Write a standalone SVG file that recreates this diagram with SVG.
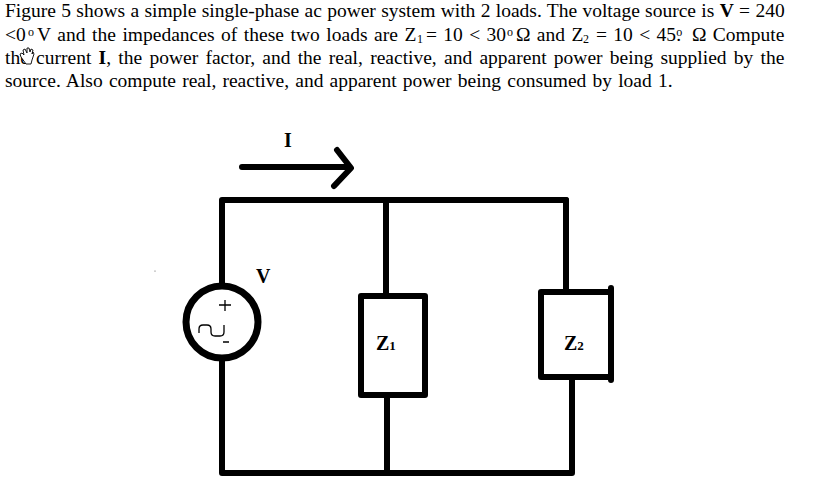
<svg xmlns="http://www.w3.org/2000/svg" width="816" height="485" viewBox="0 0 816 485">
<style>
text{font-family:"Liberation Serif","Times New Roman",serif;fill:#000}
.t{font-size:19.5px}
.s{font-size:12px}
.b{font-weight:bold}
.w{fill:none;stroke:#000;stroke-width:6;stroke-linecap:round;stroke-linejoin:round}
.n{fill:none;stroke:#000;stroke-width:1.3}
.l{font-size:20px;font-weight:bold}
.u{font-size:13px;font-weight:bold}
</style>
<rect width="816" height="485" fill="#fff"/>
<g id="problem-text">
<text class="t" x="5" y="17" word-spacing="0.45">Figure 5 shows a simple single-phase ac power system with 2 loads. The voltage source is <tspan class="b">V</tspan> = 240</text>
<text class="t" x="5" y="41">&lt;0</text><text class="s" x="28" y="36">o</text>
<text class="t" x="37" y="41" word-spacing="1.7">V and the impedances of these two loads are Z</text>
<text class="s" x="417" y="43">1</text>
<text class="t" x="426" y="41" word-spacing="1.5">= 10 &lt; 30</text><text class="s" x="507" y="36">o</text>
<text class="t" x="516" y="41" word-spacing="1.5">Ω and Z</text><text class="s" x="583" y="43">2</text>
<text class="t" x="596" y="41" word-spacing="1.5">= 10 &lt; 45<tspan class="s" dy="-5">o</tspan><tspan dy="5" dx="-6">.</tspan></text>
<text class="t" x="692" y="41" word-spacing="1.5">Ω Compute</text>
<text class="t" x="5" y="64" word-spacing="2.4">the current <tspan class="b">I</tspan>, the power factor, and the real, reactive, and apparent power being supplied by the</text>
<text class="t" x="5" y="87" word-spacing="1.3">source. Also compute real, reactive, and apparent power being consumed by load 1.</text>
<path d="M26 64L21 57L20 54L22 53L24 55L23 50L25 49L27 53L27 48L29 48L30 52L31 49L33 50L32 54L33 52L34 54L32 60L31 64Z" fill="#fff" stroke="#000" stroke-width="0.9"/>
<circle cx="155" cy="271" r="0.6" fill="#555"/>
</g>
<g id="connectors">
<path class="w" d="M222 286V200H386M386 200H566"/>
<path class="w" d="M386 200V295M566 200V291M387 396V473M572 378V473M222 358V473H572"/>
<path class="w" d="M242 167H350M337 150L351 168L334 186"/>
</g>
<g id="source">
<circle class="w" cx="222" cy="322" r="36" style="stroke-width:7"/>
<path class="n" d="M199 333V329Q199 325 203 325H207Q211 325 211 329V332Q211 336 215 336H220Q224 336 224 332V325"/>
<path class="n" d="M219 305H231M225 300V311M223 342H229"/>
<text class="l" x="256" y="283">V</text>
</g>
<g id="load-z1">
<rect class="w" x="361" y="296" width="64" height="99"/>
<text class="l" x="376" y="350">Z<tspan class="u">1</tspan></text>
</g>
<g id="load-z2">
<path class="w" d="M611 288V380M611 292H541V377H611"/>
<text class="l" x="564" y="350">Z<tspan class="u">2</tspan></text>
</g>
<g id="current-label">
<text class="l" x="284" y="147">I</text>
</g>
</svg>
